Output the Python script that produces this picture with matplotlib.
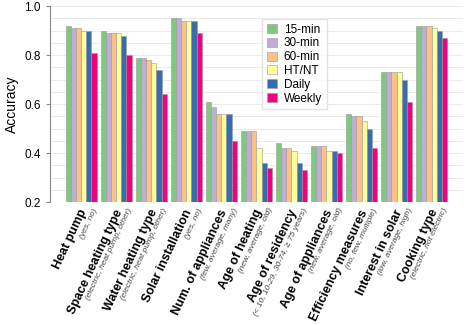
import numpy as np
from matplotlib import pyplot as plt
from matplotlib.transforms import ScaledTranslation

plt.rcParams['font.family'] = ['Liberation Sans', 'DejaVu Sans']

features = ['Heat pump', 'Space heating type', 'Water heating type', 'Solar installation',
            'Num. of appliances', 'Age of heating', 'Age of residency', 'Age of appliances',
            'Efficiency measures', 'Interest in solar', 'Cooking type']
subtitles = ['(yes, no)', '(electric, heat pump, other)', '(electric, heat pump, other)', '(yes, no)',
             '(few, average, many)', '(new, average, old)', '(< 10, 10-29, 30-74, \u2265 75 years)',
             '(new, average, old)', '(no, few, multiple)', '(low, average, high)', '(electric, not electric)']
series = ['15-min', '30-min', '60-min', 'HT/NT', 'Daily', 'Weekly']

acc_15 = [0.92, 0.90, 0.79, 0.95, 0.61, 0.49, 0.44, 0.43, 0.56, 0.73, 0.92]
acc_30 = [0.91, 0.89, 0.79, 0.95, 0.59, 0.49, 0.42, 0.43, 0.55, 0.73, 0.92]
acc_60 = [0.91, 0.89, 0.78, 0.94, 0.56, 0.49, 0.42, 0.43, 0.55, 0.73, 0.92]
acc_htnt = [0.90, 0.89, 0.77, 0.94, 0.56, 0.42, 0.41, 0.41, 0.53, 0.73, 0.91]
acc_daily = [0.90, 0.88, 0.74, 0.94, 0.56, 0.36, 0.36, 0.41, 0.50, 0.70, 0.90]
acc_weekly = [0.81, 0.80, 0.64, 0.89, 0.45, 0.34, 0.33, 0.40, 0.42, 0.61, 0.87]
values = [acc_15, acc_30, acc_60, acc_htnt, acc_daily, acc_weekly]

colors = ['#7fc97f', '#beaed4', '#fdc086', '#ffff99', '#386cb0', '#f0027f']

fig = plt.figure(figsize=(4.74, 3.25), dpi=100)
ax = fig.add_axes([0.105, 0.378, 0.872, 0.603])

x = np.arange(len(features))
w = 0.145
for j, (name, vals) in enumerate(zip(series, values)):
    ax.bar(x + (j - 2.5) * w, vals, w, color=colors[j], edgecolor='#9a9a9a',
           linewidth=0.4, label=name, zorder=3)

ax.set_ylim(0.2, 1.0)
ax.set_xlim(-0.9, 10.9)
ax.set_yticks([0.2, 0.4, 0.6, 0.8, 1.0])
ax.set_yticks(np.arange(0.2, 1.0, 0.05), minor=True)
ax.tick_params(axis='y', which='minor', length=0)
ax.tick_params(axis='y', which='major', labelsize=8.5, length=3, color='#888888')
ax.yaxis.grid(True, which='both', color='#ebebeb', linewidth=0.7, zorder=0)
ax.set_xticks([])
for s in ['top', 'right', 'bottom']:
    ax.spines[s].set_visible(False)
ax.spines['left'].set_color('#888888')
ax.set_ylabel('Accuracy', fontsize=10)

# two-part rotated category labels: bold name + small italic hint
tr = ax.get_xaxis_transform()
for i in range(len(features)):
    off1 = ScaledTranslation(-0.025, -0.055, fig.dpi_scale_trans)
    off2 = ScaledTranslation(0.11, -0.05, fig.dpi_scale_trans)
    ax.text(i, 0, features[i], transform=tr + off1, rotation=65, rotation_mode='anchor',
            ha='right', va='top', fontsize=9, fontweight='bold')
    ax.text(i, 0, subtitles[i], transform=tr + off2, rotation=65, rotation_mode='anchor',
            ha='right', va='top', fontsize=6, style='italic', color='#444444')

ax.legend(loc='upper left', bbox_to_anchor=(0.5, 0.965), fontsize=8.5, frameon=True,
          fancybox=False, edgecolor='#dddddd', handlelength=0.8, handleheight=0.8,
          handletextpad=0.6, labelspacing=0.15, borderpad=0.4)

plt.savefig('out.png', dpi=100)
